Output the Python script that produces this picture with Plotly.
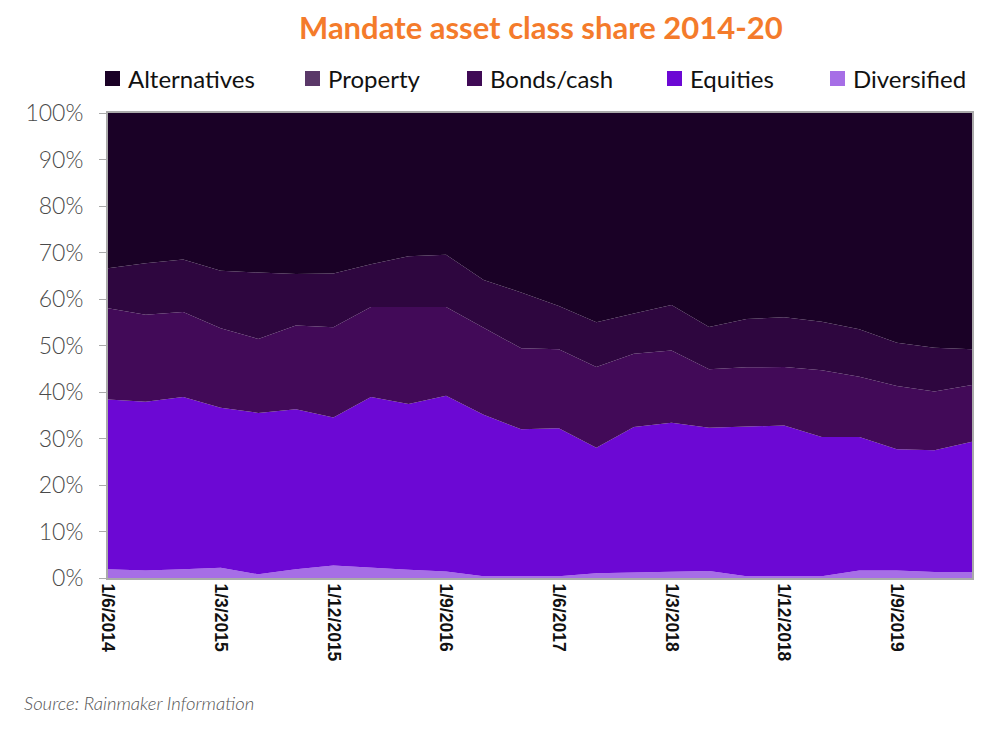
import plotly.graph_objects as go

dates = ["1/6/2014", "1/9/2014", "1/12/2014", "1/3/2015", "1/6/2015", "1/9/2015",
         "1/12/2015", "1/3/2016", "1/6/2016", "1/9/2016", "1/12/2016", "1/3/2017",
         "1/6/2017", "1/9/2017", "1/12/2017", "1/3/2018", "1/6/2018", "1/9/2018",
         "1/12/2018", "1/3/2019", "1/6/2019", "1/9/2019", "1/12/2019", "1/3/2020"]

diversified = [1.9, 1.6, 1.9, 2.2, 0.8, 1.9, 2.7, 2.2, 1.8, 1.4, 0.4, 0.4,
               0.4, 1.0, 1.2, 1.3, 1.5, 0.4, 0.4, 0.4, 1.6, 1.6, 1.3, 1.3]
equities = [36.5, 36.3, 37.0, 34.4, 34.7, 34.4, 31.8, 36.7, 35.6, 37.8, 34.7, 31.6,
            31.8, 27.0, 31.3, 32.1, 30.8, 32.1, 32.4, 29.9, 28.7, 26.1, 26.2, 28.0]
bonds_cash = [19.6, 18.7, 18.3, 17.1, 15.9, 18.0, 19.4, 19.4, 20.9, 19.1, 18.7, 17.4,
              17.0, 17.4, 15.7, 15.5, 12.6, 12.8, 12.6, 14.4, 13.0, 13.6, 12.6, 12.2]
property_ = [8.6, 11.1, 11.3, 12.4, 14.3, 11.1, 11.6, 9.2, 10.9, 11.2, 10.3, 12.0,
             9.3, 9.6, 8.7, 9.8, 9.1, 10.4, 10.7, 10.4, 10.2, 9.3, 9.4, 7.7]
alternatives = [33.4, 32.3, 31.5, 33.9, 34.3, 34.6, 34.5, 32.5, 30.8, 30.5, 35.9, 38.6,
                41.5, 45.0, 43.1, 41.3, 46.0, 44.3, 43.9, 44.9, 46.5, 49.4, 50.5, 50.8]

series_names = ["Alternatives", "Property", "Bonds/cash", "Equities", "Diversified"]
y_ticks = [0, 10, 20, 30, 40, 50, 60, 70, 80, 90, 100]
y_tick_labels = [f"{v}%" for v in y_ticks]
x_tick_labels = dates[::3]

fill_colors = {
    "Diversified": "#a66ee6",
    "Equities": "#6c08d4",
    "Bonds/cash": "#420a58",
    "Property": "#2e063f",
    "Alternatives": "#1a0126",
}
swatch_colors = {
    "Alternatives": "#1a0126",
    "Property": "#5a3868",
    "Bonds/cash": "#3f0a55",
    "Equities": "#6c08d4",
    "Diversified": "#a66ee6",
}

fig = go.Figure()
stack = [("Diversified", diversified), ("Equities", equities),
         ("Bonds/cash", bonds_cash), ("Property", property_),
         ("Alternatives", alternatives)]
for name, vals in stack:
    fig.add_trace(go.Scatter(
        x=dates, y=vals, name=name, stackgroup="one", mode="lines",
        line=dict(width=0, color=fill_colors[name]),
        fillcolor=fill_colors[name], showlegend=False,
        hovertemplate="%{x}: %{y}%<extra>" + name + "</extra>"))

# Layout geometry (pixels)
W, H = 1000, 729
L, R, T, B = 108, 28, 113, 151
pw, ph = W - L - R, H - T - B

def px_x(x):
    return (x - L) / pw

def px_y(y):
    return (H - B - y) / ph

# Manual legend
legend_x = [105, 305, 467, 667, 830]
shapes = []
annotations = []
for name, lx in zip(series_names, legend_x):
    shapes.append(dict(type="rect", xref="paper", yref="paper",
                       x0=px_x(lx), x1=px_x(lx + 15), y0=px_y(86), y1=px_y(71),
                       fillcolor=swatch_colors[name], line=dict(width=0)))
    annotations.append(dict(text=name, xref="paper", yref="paper",
                            x=px_x(lx + 21), y=px_y(78), xanchor="left", yanchor="middle",
                            showarrow=False, font=dict(family="Lato", size=24, color="#111111")))

annotations.append(dict(text="<b>Mandate asset class share 2014-20</b>", xref="paper", yref="paper",
                        x=px_x(541), y=px_y(27), xanchor="center", yanchor="middle",
                        showarrow=False, font=dict(family="Lato", size=31, color="#f47b2b")))
annotations.append(dict(text="<i>Source: Rainmaker Information</i>", xref="paper", yref="paper",
                        x=px_x(22), y=px_y(703), xanchor="left", yanchor="middle",
                        showarrow=False, font=dict(family="Lato", size=18.5, color="#555555", weight=300)))

fig.update_layout(
    width=W, height=H,
    margin=dict(l=L, r=R, t=T, b=B),
    paper_bgcolor="white", plot_bgcolor="white",
    showlegend=False,
    shapes=shapes, annotations=annotations,
    xaxis=dict(type="category", range=[0, len(dates) - 1],
               tickmode="array", tickvals=x_tick_labels, ticktext=x_tick_labels,
               tickangle=90, tickfont=dict(family="Liberation Sans", size=17.5, color="#111111", weight="bold"),
               showgrid=False, zeroline=False, showline=True, linecolor="#aaaaaa",
               linewidth=2, mirror=True, ticks=""),
    yaxis=dict(range=[0, 100], tickmode="array", tickvals=y_ticks, ticktext=y_tick_labels,
               tickfont=dict(family="Lato", size=23, color="#4a4a4a", weight=300),
               showgrid=False, zeroline=False, showline=True, linecolor="#aaaaaa",
               linewidth=2, mirror=True, ticks="outside", ticklen=7, tickcolor="#aaaaaa",
               ticklabelstandoff=11),
)

fig.write_html("out.html")
